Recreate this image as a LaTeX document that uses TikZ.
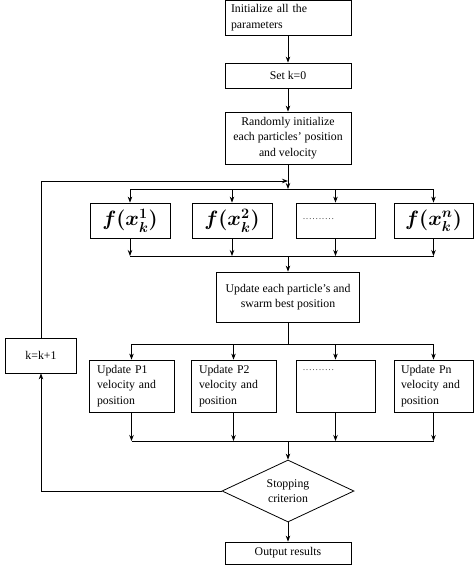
\documentclass[tikz,border=0pt]{standalone}
\usepackage{fontspec}
\setmainfont{Liberation Serif}
\usetikzlibrary{arrows.meta,shapes.geometric}
\newcommand{\mydots}{{\fontsize{8}{10}\selectfont .\kern1.2pt.\kern1.2pt.\kern1.2pt.\kern1.2pt.\kern1.2pt.\kern1.2pt.\kern1.2pt.\kern1.2pt.\kern1.2pt.}}
\begin{document}
\begin{tikzpicture}[x=1pt,y=-1pt,
  box/.style={draw, line width=0.8pt, inner sep=0pt, font=\fontsize{11.8}{15.5}\selectfont},
  fbox/.style={box, minimum height=35pt, font=\boldmath\fontsize{20}{22}\selectfont},
  pbox/.style={box, minimum height=52pt, align=left},
  arr/.style={-{Stealth[length=6pt,width=4.5pt]}, line width=0.8pt},
  ln/.style={line width=0.8pt}]
\useasboundingbox (0,0) rectangle (474,566);

% main column
\node[box, minimum width=126pt, minimum height=35pt, align=left, text width=114pt] (init) at (288,17.5) {Initialize all the\\parameters};
\node[box, minimum width=126pt, minimum height=25pt] (setk) at (288,75.5) {Set k=0};
\node[box, minimum width=126pt, minimum height=52pt, align=center] (rand) at (288,138) {Randomly initialize\\each particles' position\\and velocity};

\coordinate (join) at (288,181);
\coordinate (dist1) at (288,189);
\coordinate (col1) at (288,256);
\coordinate (dist2) at (288,344);
\coordinate (col2) at (288,441);

% f row
\node[fbox, minimum width=80pt] (f1) at (130,220.5) {$f(x_k^1)$};
\node[fbox, minimum width=80pt] (f2) at (232,220.5) {$f(x_k^2)$};
\node[box, minimum width=79pt, minimum height=35pt, text width=65pt, align=left] (fd) at (335.5,220.5) {\raisebox{2pt}{\mydots}};
\node[fbox, minimum width=79pt] (fn) at (433.5,220.5) {$f(x_k^n)$};

% update
\node[box, minimum width=143pt, minimum height=50pt, align=center] (upd) at (288,297) {Update each particle's and\\swarm best position};

% P row
\node[pbox, minimum width=85pt, text width=69pt] (p1) at (131.5,386) {Update P1\\velocity and\\position};
\node[pbox, minimum width=85pt, text width=69pt] (p2) at (233.5,386) {Update P2\\velocity and\\position};
\node[pbox, minimum width=79pt, text width=65pt] (pd) at (335.5,386) {\mydots\\\phantom{x}\\\phantom{x}};
\node[pbox, minimum width=79pt, text width=65pt] (pn) at (433.5,386) {Update Pn\\velocity and\\position};

% loop
\node[box, minimum width=71pt, minimum height=35pt] (kbox) at (41,355.5) {k=k+1};
\node[box, shape=diamond, aspect=2.1, minimum width=132pt, minimum height=62pt, align=center] (stop) at (288,491) {Stopping\\criterion};
\node[box, minimum width=126pt, minimum height=22pt] (out) at (288,553) {Output results};

% connectors main column
\draw[arr] (init) -- (setk);
\draw[arr] (setk) -- (rand);
\draw[arr] (rand.south) -- (dist1);
\draw[ln] (f1.north |- dist1) -- (fn.north |- dist1);
\foreach \n in {f1,f2,fd,fn} \draw[arr] (\n.north |- dist1) -- (\n.north);
\foreach \n in {f1,f2,fd,fn} \draw[arr] (\n.south) -- (\n.south |- col1);
\draw[ln] (f1.south |- col1) -- (fn.south |- col1);
\draw[arr] (col1) -- (upd.north);
\draw[ln] (upd.south) -- (dist2);
\draw[ln] (p1.north |- dist2) -- (pn.north |- dist2);
\foreach \n in {p1,p2,pd,pn} \draw[arr] (\n.north |- dist2) -- (\n.north);
\foreach \n in {p1,p2,pd,pn} \draw[arr] (\n.south) -- (\n.south |- col2);
\draw[ln] (p1.south |- col2) -- (pn.south |- col2);
\draw[arr] (col2) -- (stop.north);
\draw[arr] (stop.south) -- (out.north);

% feedback loop
\draw[arr] (stop.west) -| (kbox.south);
\draw[arr] (kbox.north) |- (join);
\end{tikzpicture}
\end{document}
